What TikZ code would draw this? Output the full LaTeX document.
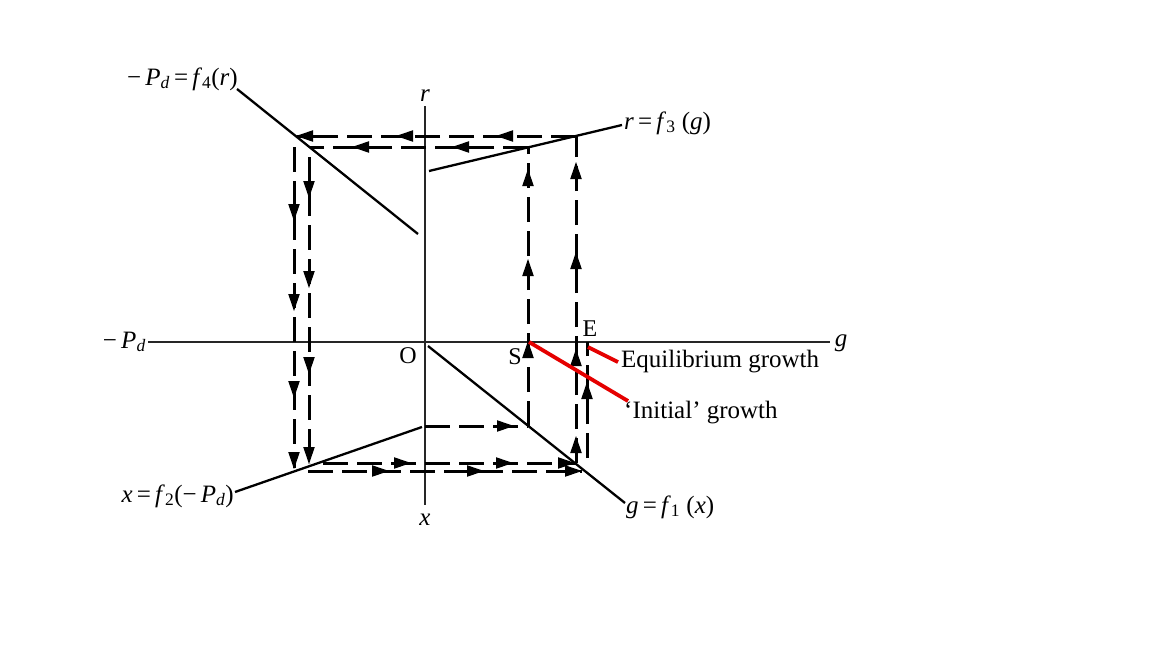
\documentclass[tikz,border=0pt]{standalone}
\usepackage{fontspec}
\setmainfont{Liberation Serif}
\usetikzlibrary{arrows.meta}
\newcommand\mi[1]{\textit{#1}}
\tikzset{
  axisline/.style={line width=2pt, black!85},
  curveline/.style={line width=2.3pt},
  dline/.style={line width=3pt, dash pattern=on 25pt off 9pt},
  redline/.style={line width=3.8pt, red!90!black},
  tiphead/.pic={\fill (1,0) -- (-16,5.8) -- (-16,-5.8) -- cycle;},
  lbl/.style={inner sep=0pt, font=\fontsize{25}{29}\selectfont},
  ptlbl/.style={inner sep=0pt, font=\fontsize{24}{27}\selectfont},
}
\newcommand\tipU[1]{\pic[rotate=90] at (#1) {tiphead};}
\newcommand\tipD[1]{\pic[rotate=-90] at (#1) {tiphead};}
\newcommand\tipL[1]{\pic[rotate=180] at (#1) {tiphead};}
\newcommand\tipR[1]{\pic at (#1) {tiphead};}
\begin{document}
\begin{tikzpicture}[x=1pt,y=-1pt]
\useasboundingbox (0,0) rectangle (1152,648);
\fill[white] (0,0) rectangle (1152,648);

% axes
\coordinate (gL) at (148,342);
\coordinate (gR) at (830,342);
\coordinate (rT) at (425,106);
\coordinate (xB) at (425,505);
\draw[axisline] (gL) -- (gR);
\draw[axisline] (rT) -- (xB);

% functions
\coordinate (f4a) at (237,89);  \coordinate (f4b) at (418,234);
\coordinate (f3a) at (429,171); \coordinate (f3b) at (622,125);
\coordinate (f2a) at (235,492); \coordinate (f2b) at (422,427);
\coordinate (f1a) at (428,346); \coordinate (f1b) at (625,503);
\draw[curveline] (f4a) -- (f4b);
\draw[curveline] (f3a) -- (f3b);
\draw[curveline] (f2a) -- (f2b);
\draw[curveline] (f1a) -- (f1b);

% loop 1 (initial, S)
\coordinate (x0) at (425,426);
\coordinate (s1) at (528,426);
\coordinate (s2) at (528,147);
\coordinate (s3) at (310,147);
\coordinate (s4) at (309,157);
\coordinate (s5) at (309,463);
\coordinate (s6) at (323,463);
\coordinate (s7) at (576,463);
\coordinate (s8) at (576,136);
\draw[dline] (x0) -- (s1);
\draw[dline] (s1) -- (s2);
\draw[dline] (s2) -- (s3);
\draw[dline] (s4) -- (s5);
\draw[dline] (s6) -- (s7);
\draw[dline] (s7) -- (s8);
\tipR{513,426}
\tipU{528,342} \tipU{528,260} \tipU{528,170}
\tipL{453,147} \tipL{353,147}
\tipD{309,197} \tipD{309,287} \tipD{309,373} \tipD{309,463}
\tipR{410,463} \tipR{512,463} \tipR{574,463}
\tipU{576,437} \tipU{576,350} \tipU{576,253} \tipU{576,163}

% loop 2 (towards E)
\coordinate (e1) at (297,136);
\coordinate (e2) at (294,147);
\coordinate (e3) at (294,468);
\coordinate (e4) at (308,471);
\coordinate (e5) at (582,471);
\coordinate (e6) at (587,458);
\coordinate (e7) at (587,342);
\draw[dline] (s8) -- (e1);
\draw[dline] (e2) -- (e3);
\draw[dline] (e4) -- (e5);
\draw[dline] (e6) -- (e7);
\tipL{497,136} \tipL{397,136} \tipL{297,136}
\tipD{294,220} \tipD{294,310} \tipD{294,397} \tipD{294,468}
\tipR{388,471} \tipR{483,471} \tipR{581,471}
\tipU{587,383}

% red leaders
\coordinate (S) at (529,342);
\coordinate (E) at (588,347);
\coordinate (iniend) at (628,401);
\coordinate (eqend) at (618,362);
\draw[redline] (S) -- (iniend);
\draw[redline] (E) -- (eqend);

% labels
\node[lbl, anchor=east] (lf4) at (238,79) {−\,\mi{P}\textsubscript{\mi{d}}\,=\,\mi{f}\textsubscript{4}(\mi{r})};
\node[lbl] (lr) at (425,96) {\mi{r}};
\node[lbl, anchor=west] (lf3) at (624,123) {\mi{r}\,=\,\mi{f}\textsubscript{3} (\mi{g})};
\node[lbl, anchor=east] (lpd) at (146,342) {−\,\mi{P}\textsubscript{\mi{d}}};
\node[ptlbl] (lO) at (408,356) {O};
\node[ptlbl] (lS) at (515,357) {S};
\node[ptlbl] (lE) at (590,329) {E};
\node[lbl] (lg) at (841,343) {\mi{g}};
\node[lbl, anchor=west] (leq) at (621,362) {Equilibrium growth};
\node[lbl, anchor=west] (lin) at (624,413) {‘Initial’ growth};
\node[lbl, anchor=east] (lf2) at (234,496) {\mi{x}\,=\,\mi{f}\textsubscript{2}(−\,\mi{P}\textsubscript{\mi{d}})};
\node[lbl] (lx) at (425,520) {\mi{x}};
\node[lbl, anchor=west] (lf1) at (626,507) {\mi{g}\,=\,\mi{f}\textsubscript{1} (\mi{x})};
\end{tikzpicture}
\end{document}
